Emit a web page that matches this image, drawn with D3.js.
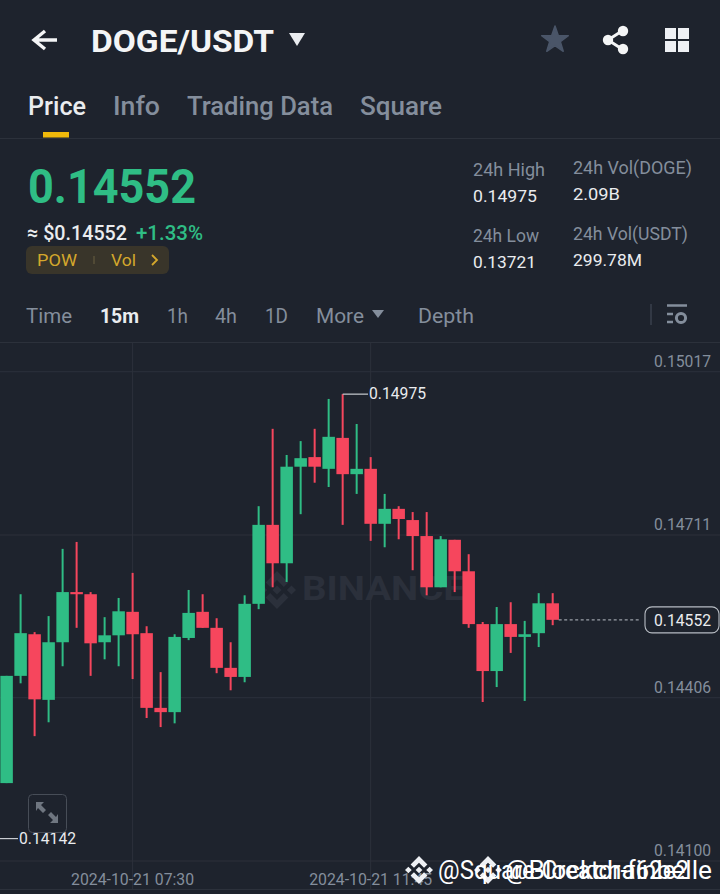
<!DOCTYPE html>
<html>
<head>
<meta charset="utf-8">
<script src="https://cdn.jsdelivr.net/npm/d3@7"></script>
<style>
  html, body { margin: 0; padding: 0; background: #1e232d; }
  svg { display: block; }
</style>
</head>
<body>
<svg id="chart" width="720" height="894"></svg>
<script>
// candles, 15m, oldest first
const opens = [0.14246, 0.14447, 0.14525, 0.14402, 0.14510, 0.14604, 0.14600, 0.14510, 0.14523, 0.14567,
  0.14527, 0.14387, 0.14379, 0.14518, 0.14567, 0.14537, 0.14462, 0.14445, 0.14582, 0.14730,
  0.14658, 0.14839, 0.14857, 0.14835, 0.14893, 0.14825, 0.14835, 0.14732, 0.14760, 0.14739,
  0.14709, 0.14613, 0.14702, 0.14643, 0.14544, 0.14456, 0.14544, 0.14520, 0.14527, 0.14583];
const highs = [0.14447, 0.14600, 0.14529, 0.14559, 0.14685, 0.14698, 0.14604, 0.14557, 0.14593, 0.14640,
  0.14540, 0.14454, 0.14525, 0.14608, 0.14600, 0.14555, 0.14510, 0.14598, 0.14765, 0.14910,
  0.14861, 0.14887, 0.14910, 0.14966, 0.14975, 0.14919, 0.14857, 0.14788, 0.14765, 0.14754,
  0.14754, 0.14709, 0.14702, 0.14675, 0.14548, 0.14576, 0.14585, 0.14550, 0.14602, 0.14602];
const lows = [0.14246, 0.14433, 0.14334, 0.14360, 0.14465, 0.14537, 0.14447, 0.14478, 0.14465, 0.14441,
  0.14368, 0.14351, 0.14358, 0.14514, 0.14537, 0.14452, 0.14420, 0.14435, 0.14572, 0.14613,
  0.14623, 0.14750, 0.14809, 0.14801, 0.14730, 0.14788, 0.14700, 0.14688, 0.14703, 0.14645,
  0.14598, 0.14613, 0.14604, 0.14537, 0.14398, 0.14426, 0.14490, 0.14400, 0.14501, 0.14542];
const closes = [0.14447, 0.14527, 0.14403, 0.14510, 0.14604, 0.14600, 0.14508, 0.14523, 0.14568, 0.14525,
  0.14387, 0.14379, 0.14520, 0.14565, 0.14537, 0.14462, 0.14445, 0.14582, 0.14730, 0.14658,
  0.14839, 0.14855, 0.14839, 0.14895, 0.14825, 0.14835, 0.14732, 0.14760, 0.14741, 0.14709,
  0.14613, 0.14703, 0.14643, 0.14544, 0.14456, 0.14544, 0.14520, 0.14525, 0.14583, 0.14552];

const priceTicks = [0.15017, 0.14711, 0.14406, 0.14100];
const timeTickIndex = [9, 26];
const timeTickLabels = ['2024-10-21 07:30', '2024-10-21 11:45'];
const lastPrice = 0.14552;
const visibleHigh = 0.14975;
const visibleLow = 0.14142;

const tabs = ['Price', 'Info', 'Trading Data', 'Square'];
const tabX = [28, 113, 187, 360];
const tabW = [58, 47, 146, 82];
const periods = ['Time', '15m', '1h', '4h', '1D', 'More', 'Depth'];
const periodX = [26, 100, 167, 215, 265, 316, 418];
const periodW = [46, 39, 21, 22, 23, 48, 56];

const BG = '#1e232d', UP = '#2fbd85', DOWN = '#f6465d', GRID = '#2c313b';
const GREY = '#848e9c', WHITE = '#eaecef', GOLD = '#d4a72c';

const svg = d3.select('#chart');
svg.append('rect').attr('width', 720).attr('height', 894).attr('fill', BG);

// text helper, the app font is narrow so widths are forced
function label(x, y, str, size, fill, len, weight, anchor) {
  const t = svg.append('text')
    .attr('x', x).attr('y', y)
    .attr('font-family', 'Roboto')
    .attr('font-size', size)
    .attr('font-weight', weight || 400)
    .attr('fill', fill)
    .attr('text-anchor', anchor || 'start')
    .text(str);
  if (len) t.attr('textLength', len).attr('lengthAdjust', 'spacingAndGlyphs');
  return t;
}

/* ---------- header ---------- */
svg.append('path')
  .attr('d', 'M57,40H35M45,31L34,40L45,49')
  .attr('fill', 'none').attr('stroke', '#f4f5f6').attr('stroke-width', 3.4);
label(91, 52, 'DOGE/USDT', 31, '#f4f5f6', 183, 700);
svg.append('path').attr('d', 'M289,33H305L297,46Z').attr('fill', WHITE);

// star
const star = d3.range(10).map(i => {
  const r = i % 2 ? 5.6 : 14;
  const a = -Math.PI / 2 + i * Math.PI / 5;
  return [555 + r * Math.cos(a), 40 + r * Math.sin(a)];
});
svg.append('path').attr('d', d3.line()(star) + 'Z')
  .attr('fill', '#4a5568').attr('stroke', '#4a5568').attr('stroke-width', 1.5).attr('stroke-linejoin', 'round');

// share
svg.append('path').attr('d', 'M622,31L608,40L622,49')
  .attr('fill', 'none').attr('stroke', '#f4f5f6').attr('stroke-width', 3);
svg.selectAll('circle.share').data([[623, 31], [608, 40], [623, 49]]).enter().append('circle')
  .attr('class', 'share')
  .attr('cx', d => d[0]).attr('cy', d => d[1]).attr('r', 5.2).attr('fill', '#f4f5f6');

// grid icon
svg.selectAll('rect.tile').data([[665, 28], [678, 28], [665, 41], [678, 41]]).enter().append('rect')
  .attr('class', 'tile')
  .attr('x', d => d[0]).attr('y', d => d[1]).attr('width', 11).attr('height', 11).attr('fill', '#eef0f4');

/* ---------- tabs ---------- */
tabs.forEach((t, i) => label(tabX[i], 115, t, 25, i === 0 ? WHITE : GREY, tabW[i], 500));
svg.append('rect').attr('x', 43).attr('y', 132).attr('width', 26).attr('height', 5.5).attr('fill', '#f0b90b');
svg.append('line').attr('x1', 0).attr('x2', 720).attr('y1', 138.5).attr('y2', 138.5).attr('stroke', GRID);

/* ---------- price block ---------- */
label(28, 203, '0.14552', 49, UP, 168, 700);
label(27, 240, '≈ $0.14552', 21, WHITE, 100, 500);
label(136, 240, '+1.33%', 20, UP, 67, 500);
svg.append('rect').attr('x', 26).attr('y', 246).attr('width', 143).attr('height', 28).attr('rx', 6).attr('fill', '#39352a');
label(37, 266, 'POW', 17, GOLD, 40);
svg.append('line').attr('x1', 94).attr('x2', 94).attr('y1', 256).attr('y2', 264).attr('stroke', '#6b6040');
label(111, 266, 'Vol', 17, GOLD, 25);
svg.append('path').attr('d', 'M152,255L157,260L152,265').attr('fill', 'none').attr('stroke', GOLD).attr('stroke-width', 1.8);

label(473, 176, '24h High', 18, GREY, 72);
label(473, 202, '0.14975', 17, WHITE, 64);
label(473, 242, '24h Low', 18, GREY, 66);
label(473, 268, '0.13721', 17, WHITE, 63);
label(573, 174, '24h Vol(DOGE)', 18, GREY, 119);
label(573, 200, '2.09B', 17, WHITE, 47);
label(573, 240, '24h Vol(USDT)', 18, GREY, 115);
label(573, 266, '299.78M', 17, WHITE, 69);

/* ---------- period row ---------- */
periods.forEach((p, i) => label(periodX[i], 323, p, 21, i === 1 ? WHITE : GREY, periodW[i], i === 1 ? 700 : 400));
svg.append('path').attr('d', 'M372,310H384L378,318Z').attr('fill', GREY);
svg.append('line').attr('x1', 651).attr('x2', 651).attr('y1', 304).attr('y2', 325).attr('stroke', '#3a414c').attr('stroke-width', 1.5);
svg.append('path').attr('d', 'M667,305.5H687M667,314H673M667,322H673')
  .attr('fill', 'none').attr('stroke', GREY).attr('stroke-width', 2.6);
svg.append('circle').attr('cx', 681).attr('cy', 318).attr('r', 4.6)
  .attr('fill', 'none').attr('stroke', GREY).attr('stroke-width', 3);
svg.append('line').attr('x1', 0).attr('x2', 720).attr('y1', 342.5).attr('y2', 342.5).attr('stroke', GRID);

/* ---------- chart ---------- */
const y = d3.scaleLinear().domain([0.14711, 0.14100]).range([535, 861]);
const x = d3.scaleLinear().domain([0, 39]).range([6.6, 552.7]);
const bodyW = 12.5;

const candles = opens.map((o, i) => ({ i, o, h: highs[i], l: lows[i], c: closes[i] }));

const grid = svg.append('g');
grid.selectAll('line.h').data(priceTicks).enter().append('line')
  .attr('class', 'h')
  .attr('x1', 0).attr('x2', 720)
  .attr('y1', d => y(d)).attr('y2', d => y(d))
  .attr('stroke', GRID);
grid.selectAll('line.v').data(timeTickIndex).enter().append('line')
  .attr('class', 'v')
  .attr('x1', d => x(d)).attr('x2', d => x(d))
  .attr('y1', 343).attr('y2', 889)
  .attr('stroke', GRID);
grid.append('line').attr('x1', 0).attr('x2', 720).attr('y1', 889.5).attr('y2', 889.5).attr('stroke', GRID);

// binance diamond logo
function logo(parent, cx, cy, s, fill) {
  const g = parent.append('g').attr('transform', `translate(${cx},${cy}) scale(${s})`).attr('fill', fill);
  g.append('path').attr('d', 'M0,-10L6,-4L3.6,-1.6L0,-5.2L-3.6,-1.6L-6,-4Z');
  g.append('path').attr('d', 'M0,10L6,4L3.6,1.6L0,5.2L-3.6,1.6L-6,4Z');
  g.append('path').attr('d', 'M0,-2.4L2.4,0L0,2.4L-2.4,0Z');
  g.append('path').attr('d', 'M-7.6,-2.4L-5.2,0L-7.6,2.4L-10,0Z');
  g.append('path').attr('d', 'M7.6,-2.4L10,0L7.6,2.4L5.2,0Z');
}

// watermark sits under the candles
logo(svg, 277, 590, 1.9, '#2b303b');
label(302, 600, 'BINANCE', 33, '#2b303b', 163, 700);

const color = d => d.c >= d.o ? UP : DOWN;
const marks = svg.append('g');
marks.selectAll('line.wick').data(candles).enter().append('line')
  .attr('class', 'wick')
  .attr('x1', d => x(d.i)).attr('x2', d => x(d.i))
  .attr('y1', d => y(d.h)).attr('y2', d => y(d.l))
  .attr('stroke', color).attr('stroke-width', 2);
marks.selectAll('rect.body').data(candles).enter().append('rect')
  .attr('class', 'body')
  .attr('x', d => x(d.i) - bodyW / 2)
  .attr('width', bodyW)
  .attr('y', d => y(Math.max(d.o, d.c)))
  .attr('height', d => Math.max(2, Math.abs(y(d.o) - y(d.c))))
  .attr('fill', color);

// axis labels
priceTicks.forEach(p => label(711, y(p) - 5, p.toFixed(5), 16, GREY, 57, 400, 'end'));
timeTickIndex.forEach((d, i) => label(x(d), 885, timeTickLabels[i], 16, GREY, 123, 400, 'middle'));

// high / low callouts
svg.append('line').attr('x1', x(24)).attr('x2', 368).attr('y1', y(visibleHigh)).attr('y2', y(visibleHigh)).attr('stroke', '#c9ccd1').attr('stroke-width', 1.2);
label(369, y(visibleHigh) + 5, visibleHigh.toFixed(5), 16, WHITE, 57);
svg.append('line').attr('x1', 0).attr('x2', 18).attr('y1', y(visibleLow)).attr('y2', y(visibleLow)).attr('stroke', '#c9ccd1').attr('stroke-width', 1.2);
label(19, y(visibleLow) + 5.5, visibleLow.toFixed(5), 16, WHITE, 57);

// last price line and tag
svg.append('line').attr('x1', x(39) + 6).attr('x2', 641).attr('y1', y(lastPrice)).attr('y2', y(lastPrice))
  .attr('stroke', '#9aa0a8').attr('stroke-width', 1.1).attr('stroke-dasharray', '3 2.5');
svg.append('rect').attr('x', 645).attr('y', y(lastPrice) - 13).attr('width', 74).attr('height', 26).attr('rx', 7)
  .attr('fill', BG).attr('stroke', '#b7bcc3').attr('stroke-width', 1.1);
label(654, y(lastPrice) + 6, lastPrice.toFixed(5), 16, WHITE, 57);

// expand button
svg.append('rect').attr('x', 28.5).attr('y', 794.5).attr('width', 38).attr('height', 38).attr('rx', 4)
  .attr('fill', BG).attr('stroke', '#474d57');
svg.append('path').attr('d', 'M36,802H44L41,805L46,810L43,813L38,808L36,811Z').attr('fill', '#6f7680');
svg.append('path').attr('d', 'M58,823H50L53,820L48,815L51,812L56,817L58,814Z').attr('fill', '#6f7680');

/* ---------- site watermarks printed on top ---------- */
logo(svg, 419, 870, 1.4, '#eef0f4');
logo(svg, 488, 870, 1.4, '#eef0f4');
label(438, 879, '@Square-Creator-f62e2', 26, '#ffffff', 251, 400);
label(505, 879, '@Blockchainbelle', 26, '#ffffff', 207, 400);
</script>
</body>
</html>
